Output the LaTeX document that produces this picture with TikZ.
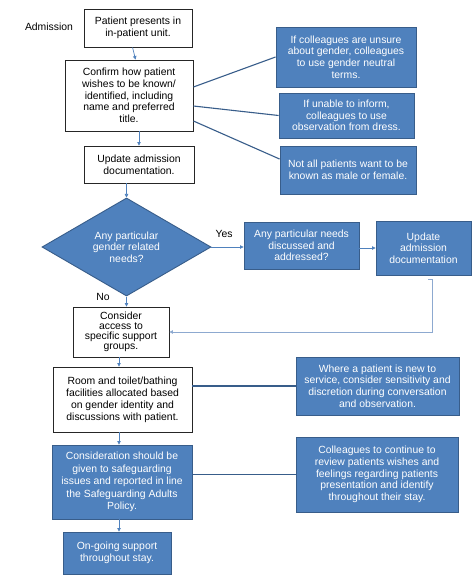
\documentclass[tikz,border=0pt]{standalone}
\usepackage{fontspec}
\setmainfont{Liberation Sans}
\usetikzlibrary{arrows.meta,shapes.geometric}
\definecolor{wblue}{HTML}{4F81BD}
\definecolor{wborder}{HTML}{385D8A}
\definecolor{lblue}{HTML}{8DA9D0}
\begin{document}
\begin{tikzpicture}[x=1pt,y=-1pt,
  font=\fontsize{10.4}{11.7}\selectfont,
  wbox/.style={draw=black!85, line width=0.9pt, fill=white, align=center, inner sep=1pt},
  bbox/.style={draw=wborder, line width=0.9pt, fill=wblue, text=white, align=center, inner sep=1pt},
  arr/.style={draw=wblue, line width=0.7pt, -{Triangle[length=3.5pt,width=3.5pt]}},
  loopc/.style={draw=lblue, line width=0.8pt, -{Triangle[length=3.5pt,width=3.5pt]}},
  link/.style={draw=wborder, line width=1.1pt},
  lbl/.style={inner sep=0pt}]
\useasboundingbox[fill=white] (0,0) rectangle (474,579);

\node[lbl] (adm) at (49,27) {Admission};
\node[wbox, minimum width=108pt, minimum height=38pt] (p1) at (138,28) {Patient presents in\\in-patient unit.};
\node[wbox, minimum width=128pt, minimum height=71pt] (p2) at (129,95.5) {Confirm how patient\\wishes to be known/\\identified, including\\name and preferred\\title.};
\node[wbox, minimum width=110pt, minimum height=37pt] (p3) at (139,164.5) {Update admission\\documentation.};
\node[diamond, draw=wborder, line width=0.9pt, fill=wblue, text=white, align=center, inner sep=0pt, minimum width=169pt, minimum height=84pt] (d) at (126.5,247) {Any particular\\gender related\\needs?};
\node[bbox, minimum width=115pt, minimum height=47pt] (needs) at (301.5,245.5) {Any particular needs\\discussed and\\addressed?};
\node[bbox, minimum width=95pt, minimum height=54pt] (upd) at (423.5,248) {Update\\admission\\documentation};
\node[wbox, minimum width=96pt, minimum height=50pt, font=\fontsize{10.4}{9.8}\selectfont] (cons) at (121,332) {Consider\\access to\\specific support\\groups.};
\node[wbox, minimum width=139pt, minimum height=65pt, font=\fontsize{10.4}{12}\selectfont] (room) at (122.5,399.5) {Room and toilet/bathing\\facilities allocated based\\on gender identity and\\discussions with patient.};
\node[bbox, minimum width=140pt, minimum height=74pt, font=\fontsize{10.4}{12.4}\selectfont] (safe) at (122,482) {Consideration should be\\given to safeguarding\\issues and reported in line\\the Safeguarding Adults\\Policy.};
\node[bbox, minimum width=108pt, minimum height=42pt, font=\fontsize{10.4}{12.4}\selectfont] (ong) at (117,553) {On-going support\\throughout stay.};

\node[bbox, minimum width=140pt, minimum height=60pt] (b1) at (346,57) {If colleagues are unsure\\about gender, colleagues\\to use gender neutral\\terms.};
\node[bbox, minimum width=135pt, minimum height=45pt] (b2) at (346.5,115.5) {If unable to inform,\\colleagues to use\\observation from dress.};
\node[bbox, minimum width=136pt, minimum height=48pt] (b3) at (348,170) {Not all patients want to be\\known as male or female.};
\node[bbox, minimum width=163pt, minimum height=58pt] (b4) at (377.5,386) {Where a patient is new to\\service, consider sensitivity and\\discretion during conversation\\and observation.};
\node[bbox, minimum width=162pt, minimum height=75pt] (b5) at (377,474.5) {Colleagues to continue to\\review patients wishes and\\feelings regarding patients\\presentation and identify\\throughout their stay.};

\node[lbl] (yes) at (224,234) {Yes};
\node[lbl] (no) at (103,297) {No};

% flow arrows
\draw[arr] ([xshift=49pt]p1.south west) -- ([xshift=71pt]p2.north west);
\draw[arr] (p2.south -| p3) -- (p3.north);
\draw[arr] (p3.south -| d.north) -- (d.north);
\draw[arr] (d.east) -- (d.east -| needs.west);
\draw[arr] (needs.east |- upd.west) -- (upd.west);
\draw[arr] (d.south) -- (d.south |- cons.north);
\draw[arr] ([xshift=-2pt]cons.south) -- ([xshift=-2pt]cons.south |- room.north);
\draw[arr] ([xshift=-3.5pt]room.south) -- ([xshift=-3.5pt]room.south |- safe.north);
\draw[arr] ([xshift=-3pt]safe.south) -- ([xshift=-3pt]safe.south |- ong.north);
\coordinate (l0) at ([xshift=4.5pt,yshift=-4pt]upd.south);
\draw[loopc] (l0) -- ++(4,0) |- (cons.east);

% links to notes
\draw[link] ([yshift=8.5pt]p2.east) -- (b1.west);
\draw[link] ([yshift=-10.5pt]p2.east) -- (b2.west);
\draw[link] ([yshift=-25.5pt]p2.east) -- ([yshift=11pt]b3.west);
\draw[link] (room.east |- b4.west) -- (b4.west);
\draw[link] (safe.east |- b5.west) -- (b5.west);
\end{tikzpicture}
\end{document}
